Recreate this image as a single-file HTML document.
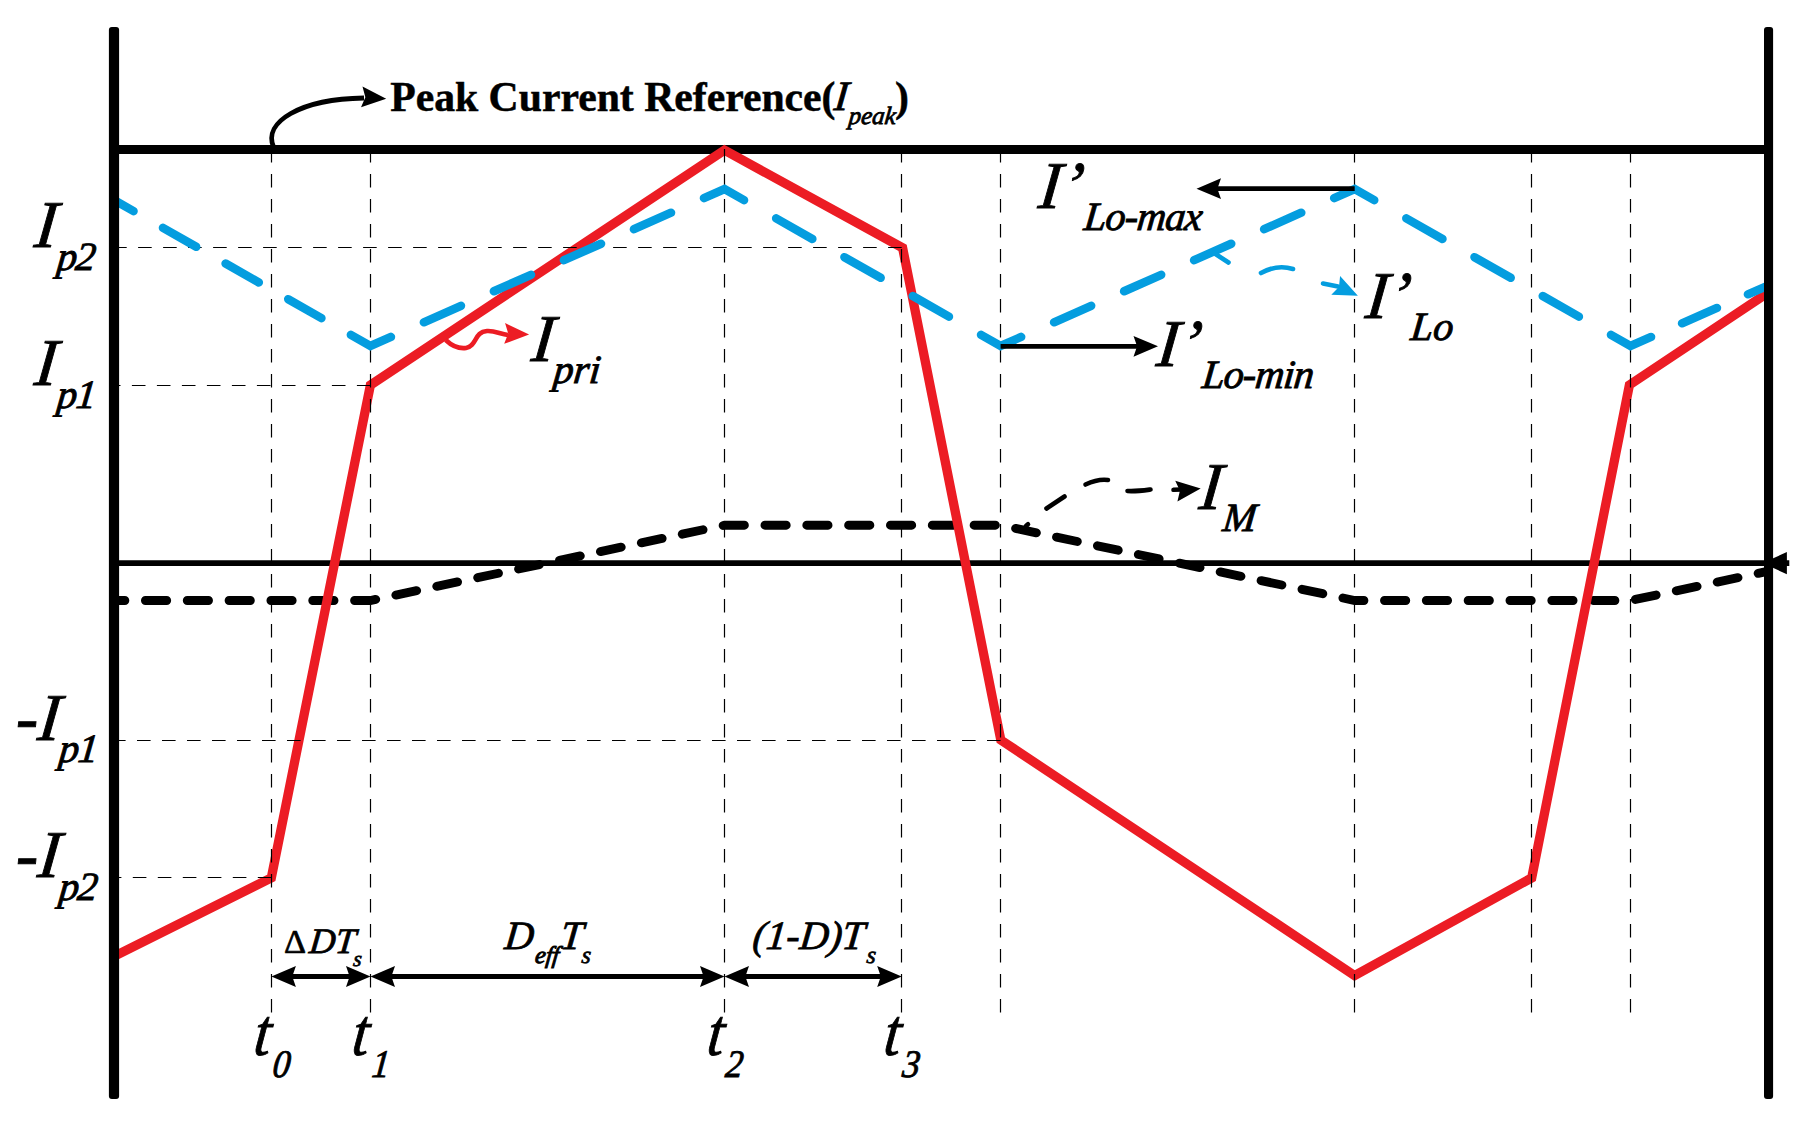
<!DOCTYPE html>
<html><head><meta charset="utf-8"><title>Peak current waveforms</title>
<style>
html,body{margin:0;padding:0;background:#fff;}
svg{display:block;}
text{font-family:"Liberation Serif","DejaVu Serif",serif;fill:#000;}
.thin{stroke:#000;stroke-width:1.2;stroke-dasharray:13.6 11.4;fill:none;}
</style></head>
<body>
<svg width="1818" height="1121" viewBox="0 0 1818 1121">
<defs>
<path id="ah" d="M0,0 L-24.5,-10.4 L-20.9,0 L-24.5,10.4 Z"/>
</defs>
<rect width="1818" height="1121" fill="#fff"/>

<line x1="114" y1="149.5" x2="1768.5" y2="149.5" stroke="#000" stroke-width="9.05"/>
<line x1="114" y1="563.1" x2="1789.3" y2="563.1" stroke="#000" stroke-width="5.9"/>
<path d="M1762.5,563.1 L1786.9,552 L1786.9,574.2 Z" fill="#000"/>
<path d="M114,600.5 L370.4,600.5 L724.5,525.2 L1000.6,525.2 L1354.7,600.5 L1630.5,600.5 L1768.5,571.2" fill="none" stroke="#000" stroke-width="8.9" stroke-linecap="round" stroke-dasharray="21.25 20.58" stroke-dashoffset="10.4"/>
<path d="M114,956.4 L271.3,877.9 L370.4,385 L724.5,150.2 L902.6,247.8 L1000.8,740 L1354.6,975.5 L1531.7,877.9 L1629.4,385 L1768.5,292.4" fill="none" stroke="#ec1c24" stroke-width="9.3" stroke-linejoin="miter"/>
<path d="M445.7,340 C452,346 458,349 466,348 C477,346 474,332 487,331 C495,330.5 500,334 508,335" fill="none" stroke="#ec1c24" stroke-width="4.6"/>
<use href="#ah" fill="#ec1c24" transform="translate(529.1,334.5) rotate(2.4)"/>
<g class="thin">
<line x1="271.5" y1="149" x2="271.5" y2="1013"/>
<line x1="370.5" y1="149" x2="370.5" y2="1013"/>
<line x1="724.5" y1="149" x2="724.5" y2="1013"/>
<line x1="901.5" y1="149" x2="901.5" y2="1013"/>
<line x1="1000.5" y1="149" x2="1000.5" y2="1013"/>
<line x1="1354.5" y1="149" x2="1354.5" y2="1013"/>
<line x1="1531.5" y1="149" x2="1531.5" y2="1013"/>
<line x1="1630.5" y1="149" x2="1630.5" y2="1013"/>
<line x1="901.7" y1="247.5" x2="114" y2="247.5"/>
<line x1="370.5" y1="385.5" x2="114" y2="385.5"/>
<line x1="1000.6" y1="740.5" x2="114" y2="740.5"/>
<line x1="271.4" y1="877.5" x2="114" y2="877.5"/>
</g>
<g fill="none" stroke="#049ddf" stroke-width="8.5" stroke-linecap="round" stroke-linejoin="miter">
<path d="M162.96,227.88 L196.18,246.8"/>
<path d="M225.59,263.54 L258.81,282.46"/>
<path d="M288.22,299.2 L321.44,318.12"/>
<path d="M423.84,322.3 L460.99,305.83"/>
<path d="M493.87,291.26 L531.01,274.79"/>
<path d="M563.89,260.21 L601.03,243.74"/>
<path d="M633.91,229.17 L671.06,212.7"/>
<path d="M776.13,218.36 L812.36,238.96"/>
<path d="M844.43,257.2 L880.67,277.8"/>
<path d="M912.74,296.04 L948.97,316.64"/>
<path d="M1054.04,322.3 L1091.19,305.83"/>
<path d="M1124.07,291.26 L1161.21,274.79"/>
<path d="M1194.09,260.21 L1231.23,243.74"/>
<path d="M1264.11,229.17 L1301.26,212.7"/>
<path d="M1406.28,218.36 L1442.48,238.97"/>
<path d="M1474.5,257.2 L1510.7,277.8"/>
<path d="M1542.72,296.03 L1578.92,316.64"/>
<path d="M1682.02,323.34 L1716.98,307.96"/>
<path d="M114,200.0 L133.55,211.13"/>
<path d="M350.85,334.87 L370.4,346 L390.97,336.88"/>
<path d="M703.93,198.12 L724.5,189 L744.06,200.12"/>
<path d="M981.04,334.88 L1000.6,346 L1021.17,336.88"/>
<path d="M1334.13,198.12 L1354.7,189 L1374.25,200.13"/>
<path d="M1610.95,334.87 L1630.5,346 L1651.1,336.94"/>
<path d="M1747.9,294.36 L1768.5,285.3"/>
</g>
<g fill="none" stroke="#049ddf" stroke-width="4.6" stroke-linecap="round">
<path d="M1214,253 L1228.5,262.5"/>
<path d="M1261,273 C1270,268 1282,265.5 1293,269"/>
<path d="M1323,283.5 L1338,286.5"/>
</g>
<use href="#ah" fill="#049ddf" transform="translate(1357.9,295.8) rotate(25)"/>
<rect x="108.9" y="26.9" width="10.2" height="1072.1" rx="3" fill="#000"/>
<rect x="1764.0" y="26.9" width="9.1" height="1072.1" rx="3" fill="#000"/>
<g stroke="#000" stroke-width="4.8" fill="none">
<line x1="1354.7" y1="188.7" x2="1216" y2="188.7"/>
<line x1="1000.6" y1="346.3" x2="1138" y2="346.3"/>
<line x1="290" y1="976.5" x2="352" y2="976.5"/>
<line x1="389" y1="976.5" x2="706" y2="976.5"/>
<line x1="743" y1="976.5" x2="883" y2="976.5"/>
<path d="M273.5,147 C263,122 300,99 364,98"/>
</g>
<use href="#ah" transform="translate(1196.5,188.7) rotate(180)"/>
<use href="#ah" transform="translate(1158,346.3) rotate(0)"/>
<use href="#ah" transform="translate(271.4,976.5) rotate(180)"/>
<use href="#ah" transform="translate(370.5,976.5) rotate(0)"/>
<use href="#ah" transform="translate(370.5,976.5) rotate(180)"/>
<use href="#ah" transform="translate(724.5,976.5) rotate(0)"/>
<use href="#ah" transform="translate(724.5,976.5) rotate(180)"/>
<use href="#ah" transform="translate(901.7,976.5) rotate(0)"/>
<use href="#ah" transform="translate(386.2,98.7) rotate(4)"/>
<g fill="none" stroke="#000" stroke-width="4.6" stroke-linecap="round">
<path d="M1026,526 L1028,524.2"/>
<path d="M1046.5,508.5 L1064.5,496.5"/>
<path d="M1085.5,484.5 C1093,481 1101,479 1108,480"/>
<path d="M1127.5,491 C1136,491.5 1143,490.5 1150.5,489.5"/>
<path d="M1173.5,489.8 L1182,489.5"/>
</g>
<use href="#ah" transform="translate(1200.7,488.5) rotate(-6)"/>
<text x="390.2" y="110.5" font-weight="bold" font-size="41.7" stroke="#000" stroke-width="0.5">Peak Current Reference(</text>
<text transform="translate(833.3,110.1) skewX(-6)" font-size="41.8" font-style="italic" stroke="#000" stroke-width="0.9" >I</text>
<text transform="translate(848,124.4) skewX(-6)" font-size="25" font-style="italic" stroke="#000" stroke-width="0.8" >peak</text>
<text x="895" y="110.5" font-weight="bold" font-size="41.7" stroke="#000" stroke-width="0.5">)</text>
<text transform="translate(33.2,247.3) skewX(-6)" font-size="67" font-style="italic" stroke="#000" stroke-width="0.9" >I</text>
<text transform="translate(55.9,270.2) skewX(-6)" font-size="40.2" font-style="italic" stroke="#000" stroke-width="0.9" letter-spacing="-1.5">p2</text>
<text transform="translate(33.2,385.3) skewX(-6)" font-size="67" font-style="italic" stroke="#000" stroke-width="0.9" >I</text>
<text transform="translate(55.9,407.5) skewX(-6)" font-size="40.2" font-style="italic" stroke="#000" stroke-width="0.9" letter-spacing="-1">p1</text>
<text transform="translate(14.2,740.2) skewX(-6)" font-size="67" font-style="italic" stroke="#000" stroke-width="0.9" >-I</text>
<text transform="translate(58.0,762.3) skewX(-6)" font-size="40.2" font-style="italic" stroke="#000" stroke-width="0.9" letter-spacing="-1">p1</text>
<text transform="translate(14.2,877.3) skewX(-6)" font-size="67" font-style="italic" stroke="#000" stroke-width="0.9" >-I</text>
<text transform="translate(58.0,900.2) skewX(-6)" font-size="40.2" font-style="italic" stroke="#000" stroke-width="0.9" letter-spacing="-1.5">p2</text>
<text transform="translate(530.2,361.4) skewX(-6)" font-size="67" font-style="italic" stroke="#000" stroke-width="0.9" >I</text>
<text transform="translate(552.5,383.1) skewX(-6)" font-size="40.2" font-style="italic" stroke="#000" stroke-width="0.9" >pri</text>
<text transform="translate(1037.3,208.4) skewX(-6)" font-size="67" font-style="italic" stroke="#000" stroke-width="0.9" >I’</text>
<text transform="translate(1083,230.4) skewX(-6)" font-size="40.2" font-style="italic" stroke="#000" stroke-width="0.9" letter-spacing="-0.9">Lo-max</text>
<text transform="translate(1155.3,366.1) skewX(-6)" font-size="67" font-style="italic" stroke="#000" stroke-width="0.9" >I’</text>
<text transform="translate(1201.2,388.1) skewX(-6)" font-size="40.2" font-style="italic" stroke="#000" stroke-width="0.9" letter-spacing="-0.9">Lo-min</text>
<text transform="translate(1364.2,318.1) skewX(-6)" font-size="67" font-style="italic" stroke="#000" stroke-width="0.9" >I’</text>
<text transform="translate(1409.8,340.2) skewX(-6)" font-size="40.2" font-style="italic" stroke="#000" stroke-width="0.9" >Lo</text>
<text transform="translate(1198.1,508.8) skewX(-6)" font-size="67" font-style="italic" stroke="#000" stroke-width="0.9" >I</text>
<text transform="translate(1221.8,531.1) skewX(-6)" font-size="40.2" font-style="italic" stroke="#000" stroke-width="0.9" >M</text>
<text transform="translate(252.6,1055.1) skewX(-6) scale(0.9,1)" font-size="67" font-style="italic" stroke="#000" stroke-width="0.9" >t</text>
<text transform="translate(271.7,1077.1) skewX(-6) scale(0.9,1)" font-size="39" font-style="italic" stroke="#000" stroke-width="0.9" >0</text>
<text transform="translate(350.7,1055.1) skewX(-6) scale(0.9,1)" font-size="67" font-style="italic" stroke="#000" stroke-width="0.9" >t</text>
<text transform="translate(371.1,1077.1) skewX(-6) scale(0.9,1)" font-size="39" font-style="italic" stroke="#000" stroke-width="0.9" >1</text>
<text transform="translate(705.7,1055.1) skewX(-6) scale(0.9,1)" font-size="67" font-style="italic" stroke="#000" stroke-width="0.9" >t</text>
<text transform="translate(724.6,1077.1) skewX(-6) scale(0.9,1)" font-size="39" font-style="italic" stroke="#000" stroke-width="0.9" >2</text>
<text transform="translate(882.6,1055.1) skewX(-6) scale(0.9,1)" font-size="67" font-style="italic" stroke="#000" stroke-width="0.9" >t</text>
<text transform="translate(901.6,1077.1) skewX(-6) scale(0.9,1)" font-size="39" font-style="italic" stroke="#000" stroke-width="0.9" >3</text>
<text x="283.9" y="953.3" font-size="34.3" stroke="#000" stroke-width="0.7">Δ</text>
<text transform="translate(308.6,953.2) skewX(-6)" font-size="36" font-style="italic" stroke="#000" stroke-width="0.8" >DT</text>
<text transform="translate(352.8,966.2) skewX(-6)" font-size="21.6" font-style="italic" stroke="#000" stroke-width="0.7" >s</text>
<text transform="translate(503.7,949.2) skewX(-6)" font-size="40.2" font-style="italic" stroke="#000" stroke-width="0.8" >D</text>
<text transform="translate(534.5,963.4) skewX(-6)" font-size="24" font-style="italic" stroke="#000" stroke-width="1.0" >eff</text>
<text transform="translate(559.5,949.2) skewX(-6)" font-size="40.2" font-style="italic" stroke="#000" stroke-width="0.8" >T</text>
<text transform="translate(581,963.4) skewX(-6)" font-size="24" font-style="italic" stroke="#000" stroke-width="0.7" >s</text>
<text transform="translate(751.8,949.3) skewX(-6)" font-size="40.2" font-style="italic" stroke="#000" stroke-width="0.8" >(1-D)T</text>
<text transform="translate(866,963.3) skewX(-6)" font-size="24" font-style="italic" stroke="#000" stroke-width="0.7" >s</text>
</svg>
</body></html>
